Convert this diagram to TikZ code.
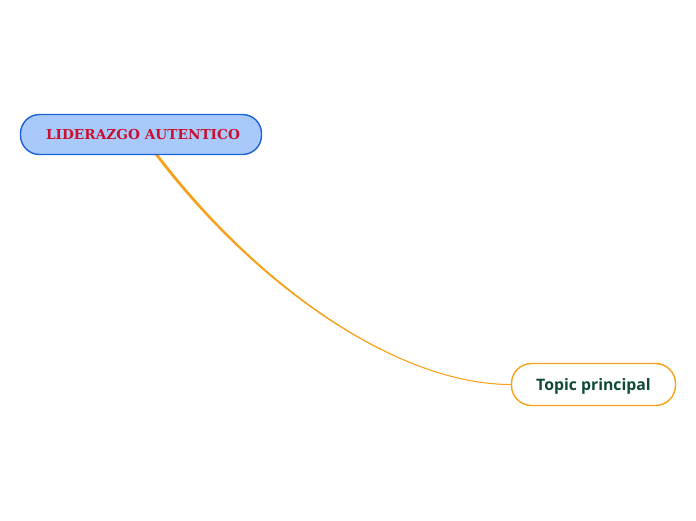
\documentclass[tikz,border=0pt]{standalone}
\usepackage{fontspec}
\usetikzlibrary{calc,backgrounds}
\newfontfamily\titlefont{DejaVu Serif}[BoldFont={DejaVu Serif Bold}]
\newfontfamily\topicfont{Open Sans}
\definecolor{bluefill}{HTML}{A9C9FA}
\definecolor{blueline}{HTML}{1A62D6}
\definecolor{titlered}{HTML}{C8102E}
\definecolor{orangeline}{HTML}{F7A11A}
\definecolor{topicgreen}{HTML}{0E4A35}
\tikzset{
  mainbox/.style={draw=blueline, fill=bluefill, line width=1.4pt, rounded corners=19pt,
    minimum width=241pt, minimum height=40pt, inner sep=0pt,
    font=\titlefont\bfseries\fontsize{13.7}{16}\selectfont, text=titlered},
  topicbox/.style={draw=orangeline, fill=white, line width=1.4pt, rounded corners=20pt,
    minimum width=164pt, minimum height=42pt, inner sep=0pt,
    font=\topicfont\bfseries\fontsize{15.8}{18}\selectfont, text=topicgreen},
  link/.style={draw=orangeline, line width=1pt}
}
\begin{document}
\begin{tikzpicture}[x=1pt,y=-1pt]
\useasboundingbox (0,0) rectangle (696,520);
\node[mainbox] (main) at (141,134.5) {\hspace*{4pt}\raisebox{0pt}[10pt][0pt]{LIDERAZGO AUTENTICO}};
\node[topicbox] (topic) at (593.5,384.5) {\raisebox{0pt}[11.3pt][0pt]{Topic principal}};
\coordinate (start) at ($(main.south)+(16,0)$);
\begin{scope}[on background layer]
\fill[orangeline] ($(start)+(-1.8,0)$) .. controls (258.5,290.5) and (400,384.6) .. (topic.west)
  .. controls (400,384.4) and (261.5,289.5) .. ($(start)+(1.8,0)$) -- cycle;
\draw[link] (start) .. controls (260,290) and (400,384.5) .. (topic.west);
\end{scope}
\end{tikzpicture}
\end{document}
